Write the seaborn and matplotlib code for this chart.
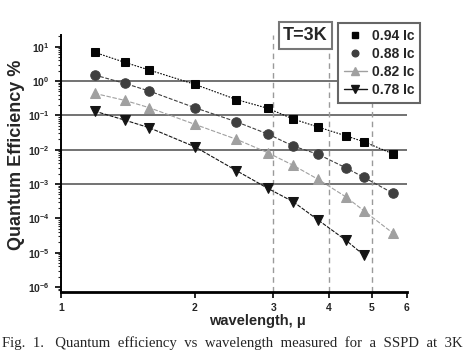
import numpy as np
import pandas as pd
import seaborn as sns
import matplotlib
matplotlib.use("Agg")
import matplotlib.pyplot as plt
from matplotlib.lines import Line2D
from matplotlib.patches import Rectangle
from matplotlib.ticker import FixedLocator, NullFormatter, LogLocator

# ---------------- data ----------------
wavelength = [1.19, 1.39, 1.58, 2.0, 2.48, 2.92, 3.33, 3.79, 4.37, 4.80, 5.59]
qe_094 = [6.87, 3.51, 2.09, 0.80, 0.289, 0.160, 0.078, 0.0456, 0.0254, 0.0170, 0.00745]
qe_088 = [1.50, 0.857, 0.511, 0.167, 0.065, 0.0285, 0.01274, 0.0073, 0.00297, 0.00156, 0.000532]
qe_082 = [0.438, 0.274, 0.167, 0.0547, 0.0201, 0.00813, 0.00349, 0.00136, 0.000424, 0.000166, 3.63e-5]
qe_078 = [0.133, 0.073, 0.0435, 0.01216, 0.00246, 0.000744, 0.000303, 8.87e-5, 2.31e-5, 8.45e-6]
series_labels = ["0.94 Ic", "0.88 Ic", "0.82 Ic", "0.78 Ic"]
ref_levels = [1, 0.1, 0.01, 0.001]
marked_wavelengths = [3, 4, 5]
x_ticks = [1, 2, 3, 4, 5, 6]
x_tick_labels = ["1", "2", "3", "4", "5", "6"]
y_exponents = [-6, -5, -4, -3, -2, -1, 0, 1]

sns.set_theme(style="ticks")
plt.rcParams["font.family"] = ["Liberation Sans", "DejaVu Sans"]
plt.rcParams["mathtext.fontset"] = "custom"
plt.rcParams["mathtext.rm"] = "Liberation Sans"
plt.rcParams["mathtext.bf"] = "Liberation Sans:bold"

W, H = 474, 358
fig = plt.figure(figsize=(W / 100, H / 100), dpi=100)
ax = fig.add_axes([61 / W, 1 - 292 / H, 346 / W, 257 / H])

ax.set_xscale("log")
ax.set_yscale("log")
ax.set_xlim(1, 6)
ax.set_ylim(10 ** -6.146, 10 ** 1.341)

# reference lines
for lv in ref_levels:
    ax.axhline(lv, color="#5a5a5a", lw=1.2, zorder=1)
for wl in marked_wavelengths:
    ax.axvline(wl, color="#9a9a9a", lw=1.0, ls=(0, (4, 3)), zorder=1)

styles = [
    dict(marker="s", color="#050505", ls=(0, (1.5, 1.2)), ms=6.2),
    dict(marker="o", color="#3f3f3f", ls=(0, (3.5, 1.5)), ms=6.8),
    dict(marker="^", color="#a0a0a0", ls=(0, (4, 1.5)), ms=7.8),
    dict(marker="v", color="#151515", ls=(0, (3.5, 1.2)), ms=7.8),
]
all_series = [qe_094, qe_088, qe_082, qe_078]
for vals, st, lab in zip(all_series, styles, series_labels):
    xs = wavelength[: len(vals)]
    sns.lineplot(x=xs, y=vals, ax=ax, color=st["color"], linestyle=st["ls"],
                 lw=0.8, marker=st["marker"], markersize=st["ms"],
                 markeredgecolor=st["color"], markerfacecolor=st["color"],
                 legend=False, zorder=3)

# ticks
ax.xaxis.set_major_locator(FixedLocator(x_ticks))
ax.xaxis.set_minor_locator(FixedLocator([]))
ax.set_xticklabels(x_tick_labels)
ax.yaxis.set_major_locator(FixedLocator([10.0 ** e for e in y_exponents]))
ax.set_yticklabels([r"$\mathbf{10^{%d}}$" % e for e in y_exponents])
ax.yaxis.set_minor_locator(LogLocator(base=10, subs=np.arange(2, 10), numticks=20))
ax.yaxis.set_minor_formatter(NullFormatter())
ax.tick_params(axis="both", which="major", direction="out", length=4, width=1.2,
               labelsize=7.5, pad=4, color="black")
ax.tick_params(axis="y", which="minor", direction="out", length=2.2, width=0.8)
for t in ax.get_xticklabels() + ax.get_yticklabels():
    t.set_fontweight("bold")

for side in ["top", "right"]:
    ax.spines[side].set_visible(False)
ax.spines["left"].set_linewidth(1.4)
ax.spines["bottom"].set_linewidth(2.0)
ax.spines["left"].set_color("black")
ax.spines["bottom"].set_color("black")
ax.set_xlabel("")
ax.set_ylabel("")

# axis labels
fig.text(17 / W, 1 - 155 / H, "Quantum Efficiency %", rotation=90, ha="center",
         va="center", fontsize=13, fontweight="bold")
fig.text(257 / W, 1 - 321 / H, "wavelength, μ", ha="center", va="center",
         fontsize=10.5, fontweight="bold")

# T=3K box
fig.patches.append(Rectangle((279 / W, 1 - 49 / H), 53 / W, 27 / H,
                             transform=fig.transFigure, facecolor="white",
                             edgecolor="#777777", lw=1.5, zorder=5))
fig.text(305.5 / W, 1 - 35.5 / H, "T=3K", ha="center", va="center",
         fontsize=13, fontweight="bold", zorder=6)

# legend
handles = [
    Line2D([], [], marker="s", color="#050505", ls="None", markersize=4.2),
    Line2D([], [], marker="o", color="#3f3f3f", ls="None", markersize=4.8),
    Line2D([], [], marker="^", color="#a0a0a0", ls="-", lw=1, markersize=5.5),
    Line2D([], [], marker="v", color="#151515", ls="-", lw=1, markersize=5.5),
]
leg = fig.legend(handles, series_labels, loc="upper left",
                 bbox_to_anchor=(338 / W, 1 - 23 / H), frameon=True,
                 fancybox=False, framealpha=1, edgecolor="#666666",
                 prop={"weight": "bold", "size": 10}, borderpad=0.4,
                 labelspacing=0.3, handlelength=1.7, handletextpad=0.35,
                 borderaxespad=0)
leg.get_frame().set_linewidth(1.5)
leg.set_zorder(7)

# caption
fig.text(2 / W, 1 - 343 / H,
         "Fig.  1.   Quantum  efficiency  vs  wavelength  measured  for  a  SSPD  at  3K",
         ha="left", va="center", fontsize=10.6, family="Liberation Serif")

fig.savefig("out.png", dpi=100)
